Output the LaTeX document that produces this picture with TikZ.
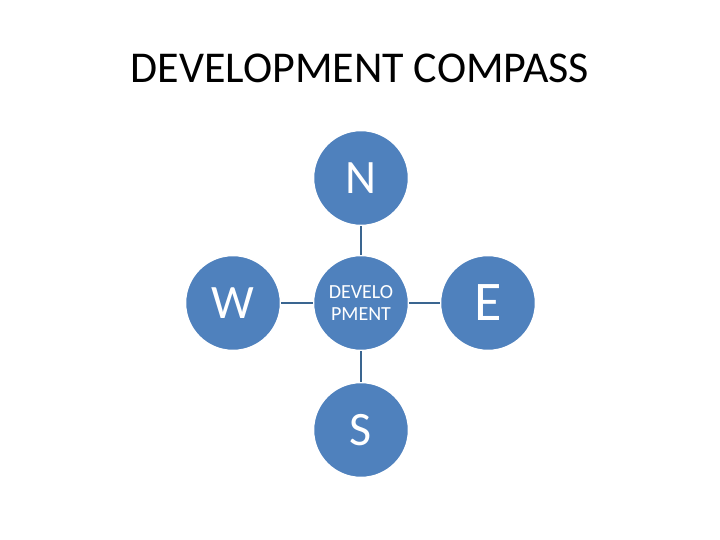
\documentclass[tikz,border=0pt]{standalone}
\usepackage{fontspec}
\setmainfont{Carlito}
\usetikzlibrary{positioning}
\definecolor{blob}{HTML}{4F81BD}
\definecolor{edge}{HTML}{3A6590}
\tikzset{
  point/.style={circle, fill=blob, draw=white, line width=1.5pt, minimum size=95pt,
    inner sep=0pt, text=white, font=\fontsize{48}{48}\selectfont},
  link/.style={draw=edge, line width=2pt}
}
\begin{document}
\begin{tikzpicture}[x=1pt, y=-1pt]
  \useasboundingbox (0,0) rectangle (720,540);
  % Titolo
  \node[font=\fontsize{44}{44}\selectfont] (title) at (360,68) {DEVELOPMENT COMPASS};

  % Cerchi
  \node[point, font=\fontsize{20}{22}\selectfont, align=center] (dev) at (361,303) {DEVELO\\PMENT};
  \node[point] (n) at (361,178) {N};
  \node[point] (s) at (361,430) {S};
  \node[point] (w) at (233,303) {W};
  \node[point, font=\fontsize{56}{56}\selectfont] (e) at (488,303) {E};

  % Collegamenti
  \draw[link] (dev) -- (n);
  \draw[link] (dev) -- (s);
  \draw[link] (dev) -- (w);
  \draw[link] (dev) -- (e);
\end{tikzpicture}
\end{document}
